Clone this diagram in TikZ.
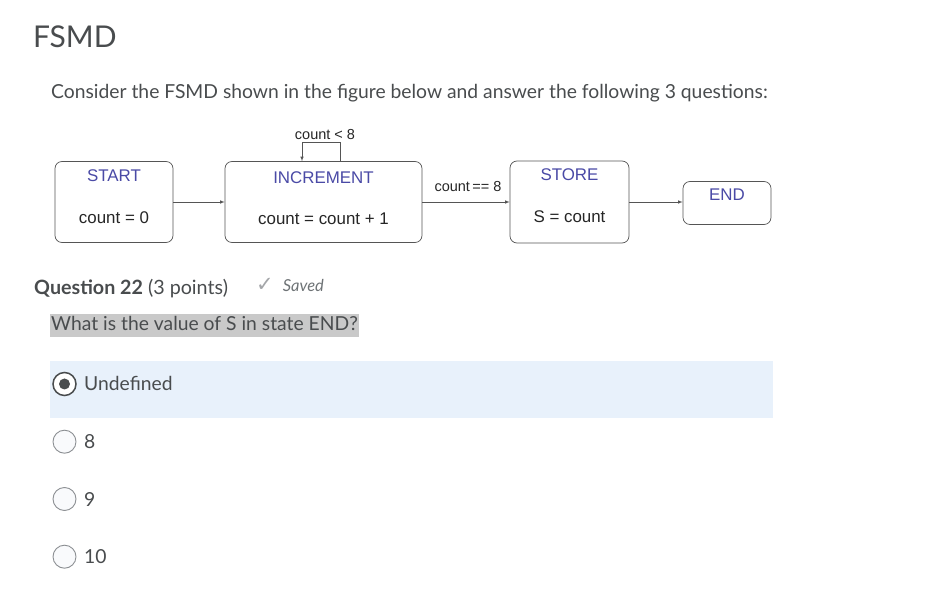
\documentclass[tikz,border=0pt]{standalone}
\usepackage{fontspec}
\setmainfont{Lato}
\newfontfamily\diagfont{Liberation Sans}
\newfontfamily\symfont{DejaVu Sans}
\usetikzlibrary{arrows.meta, positioning}
\definecolor{pagetext}{HTML}{494C4E}
\definecolor{stname}{HTML}{4A4AA6}
\definecolor{boxline}{HTML}{555555}
\definecolor{hilite}{HTML}{C9C9C9}
\definecolor{panel}{HTML}{E8F1FB}
\definecolor{radioline}{HTML}{8D9094}
\definecolor{radiofill}{HTML}{F9FAFC}
\definecolor{savedgray}{HTML}{6E7376}
\tikzstyle{block}=[draw=boxline,fill=white,rectangle,rounded corners=7pt,line width=.7pt]
\tikzstyle{txt}=[anchor=base west,inner sep=0pt,text=pagetext,font=\fontsize{19.3}{23}\selectfont]
\tikzstyle{dtxt}=[inner sep=0pt,text=black!85,font=\diagfont\fontsize{16.9}{20}\selectfont]
\tikzstyle{lbl}=[inner sep=0pt,text=black!85,font=\diagfont\fontsize{14.5}{17}\selectfont]
\tikzstyle{radio}=[circle,draw=radioline,fill=radiofill,line width=.9pt,minimum size=23pt,inner sep=0pt]

\begin{document}
\begin{tikzpicture}[x=1pt,y=-1pt,>=latex]
  \useasboundingbox[fill=white] (0,0) rectangle (932,609);
  \node[txt,font=\fontsize{30}{36}\selectfont] (title) at (33,47.5) {FSMD};
  \node[txt] (intro) at (51,99) {Consider the FSMD shown in the figure below and answer the following 3 questions:};

  \node[block,minimum width=118pt,minimum height=81pt] (start) at (114,202) {};
  \node[block,minimum width=197pt,minimum height=81pt] (incr) at (323.5,202) {};
  \node[block,minimum width=119pt,minimum height=82pt] (store) at (569.5,202) {};
  \node[block,minimum width=88pt,minimum height=43pt] (endst) at (727,203) {};

  \node[dtxt,text=stname] (start-n) at (114,176) {START};
  \node[dtxt] (start-a) at (114,218) {count = 0};
  \node[dtxt,text=stname] (incr-n) at (323.5,178) {INCREMENT};
  \node[dtxt] (incr-a) at (323.5,219) {count = count + 1};
  \node[dtxt,text=stname] (store-n) at (569.5,175) {STORE};
  \node[dtxt] (store-a) at (569.5,217) {S = count};
  \node[dtxt,text=stname] (endst-n) at (727,195) {END};

  \draw[->,boxline,line width=.6pt] (start) -- (incr);
  \draw[->,boxline,line width=.6pt] (incr) -- (store);
  \draw[->,boxline,line width=.6pt] (store) -- (store -| endst.west);

  \coordinate (loop-r) at (340,142);
  \coordinate (loop-l) at (302,142);
  \draw[->,boxline,line width=.6pt] (loop-r |- incr.north) -- (loop-r) -- (loop-l) -- (loop-l |- incr.north);
  \node[lbl] (loop-t) at (325,134.5) {count < 8};
  \node[lbl] (exit-t) at (468,187) {count\,== 8};

  \node[txt,font=\fontsize{19.7}{23}\selectfont] (qnum) at (34,295) {\textbf{Question 22} (3 points)};
  \node[txt,text=savedgray,font=\fontsize{16.5}{19}\selectfont] (saved) at (256,292)
    {{\symfont\color{radioline!80}\fontsize{21}{24}\selectfont ✓}\hspace{9pt}\textit{Saved}};

  \fill[hilite] (50,314) rectangle (359,337);
  \node[txt] (quest) at (51,331) {What is the value of S in state END?};

  \fill[panel] (50,361) rectangle (773,418);
  \node[radio,draw=pagetext,fill=white,line width=1.5pt] (opt1) at (64.5,384) {};
  \fill[pagetext] (opt1) circle (5.5pt);
  \node[txt] (opt1-t) at (84,391) {Undefined};
  \foreach \y/\v [count=\i from 2] in {441.7/8, 499/9, 556.7/10} {
    \node[radio] (opt\i) at (64.5,\y) {};
    \node[txt] (opt\i-t) at (84,\y+7) {\v};
  }
\end{tikzpicture}
\end{document}
